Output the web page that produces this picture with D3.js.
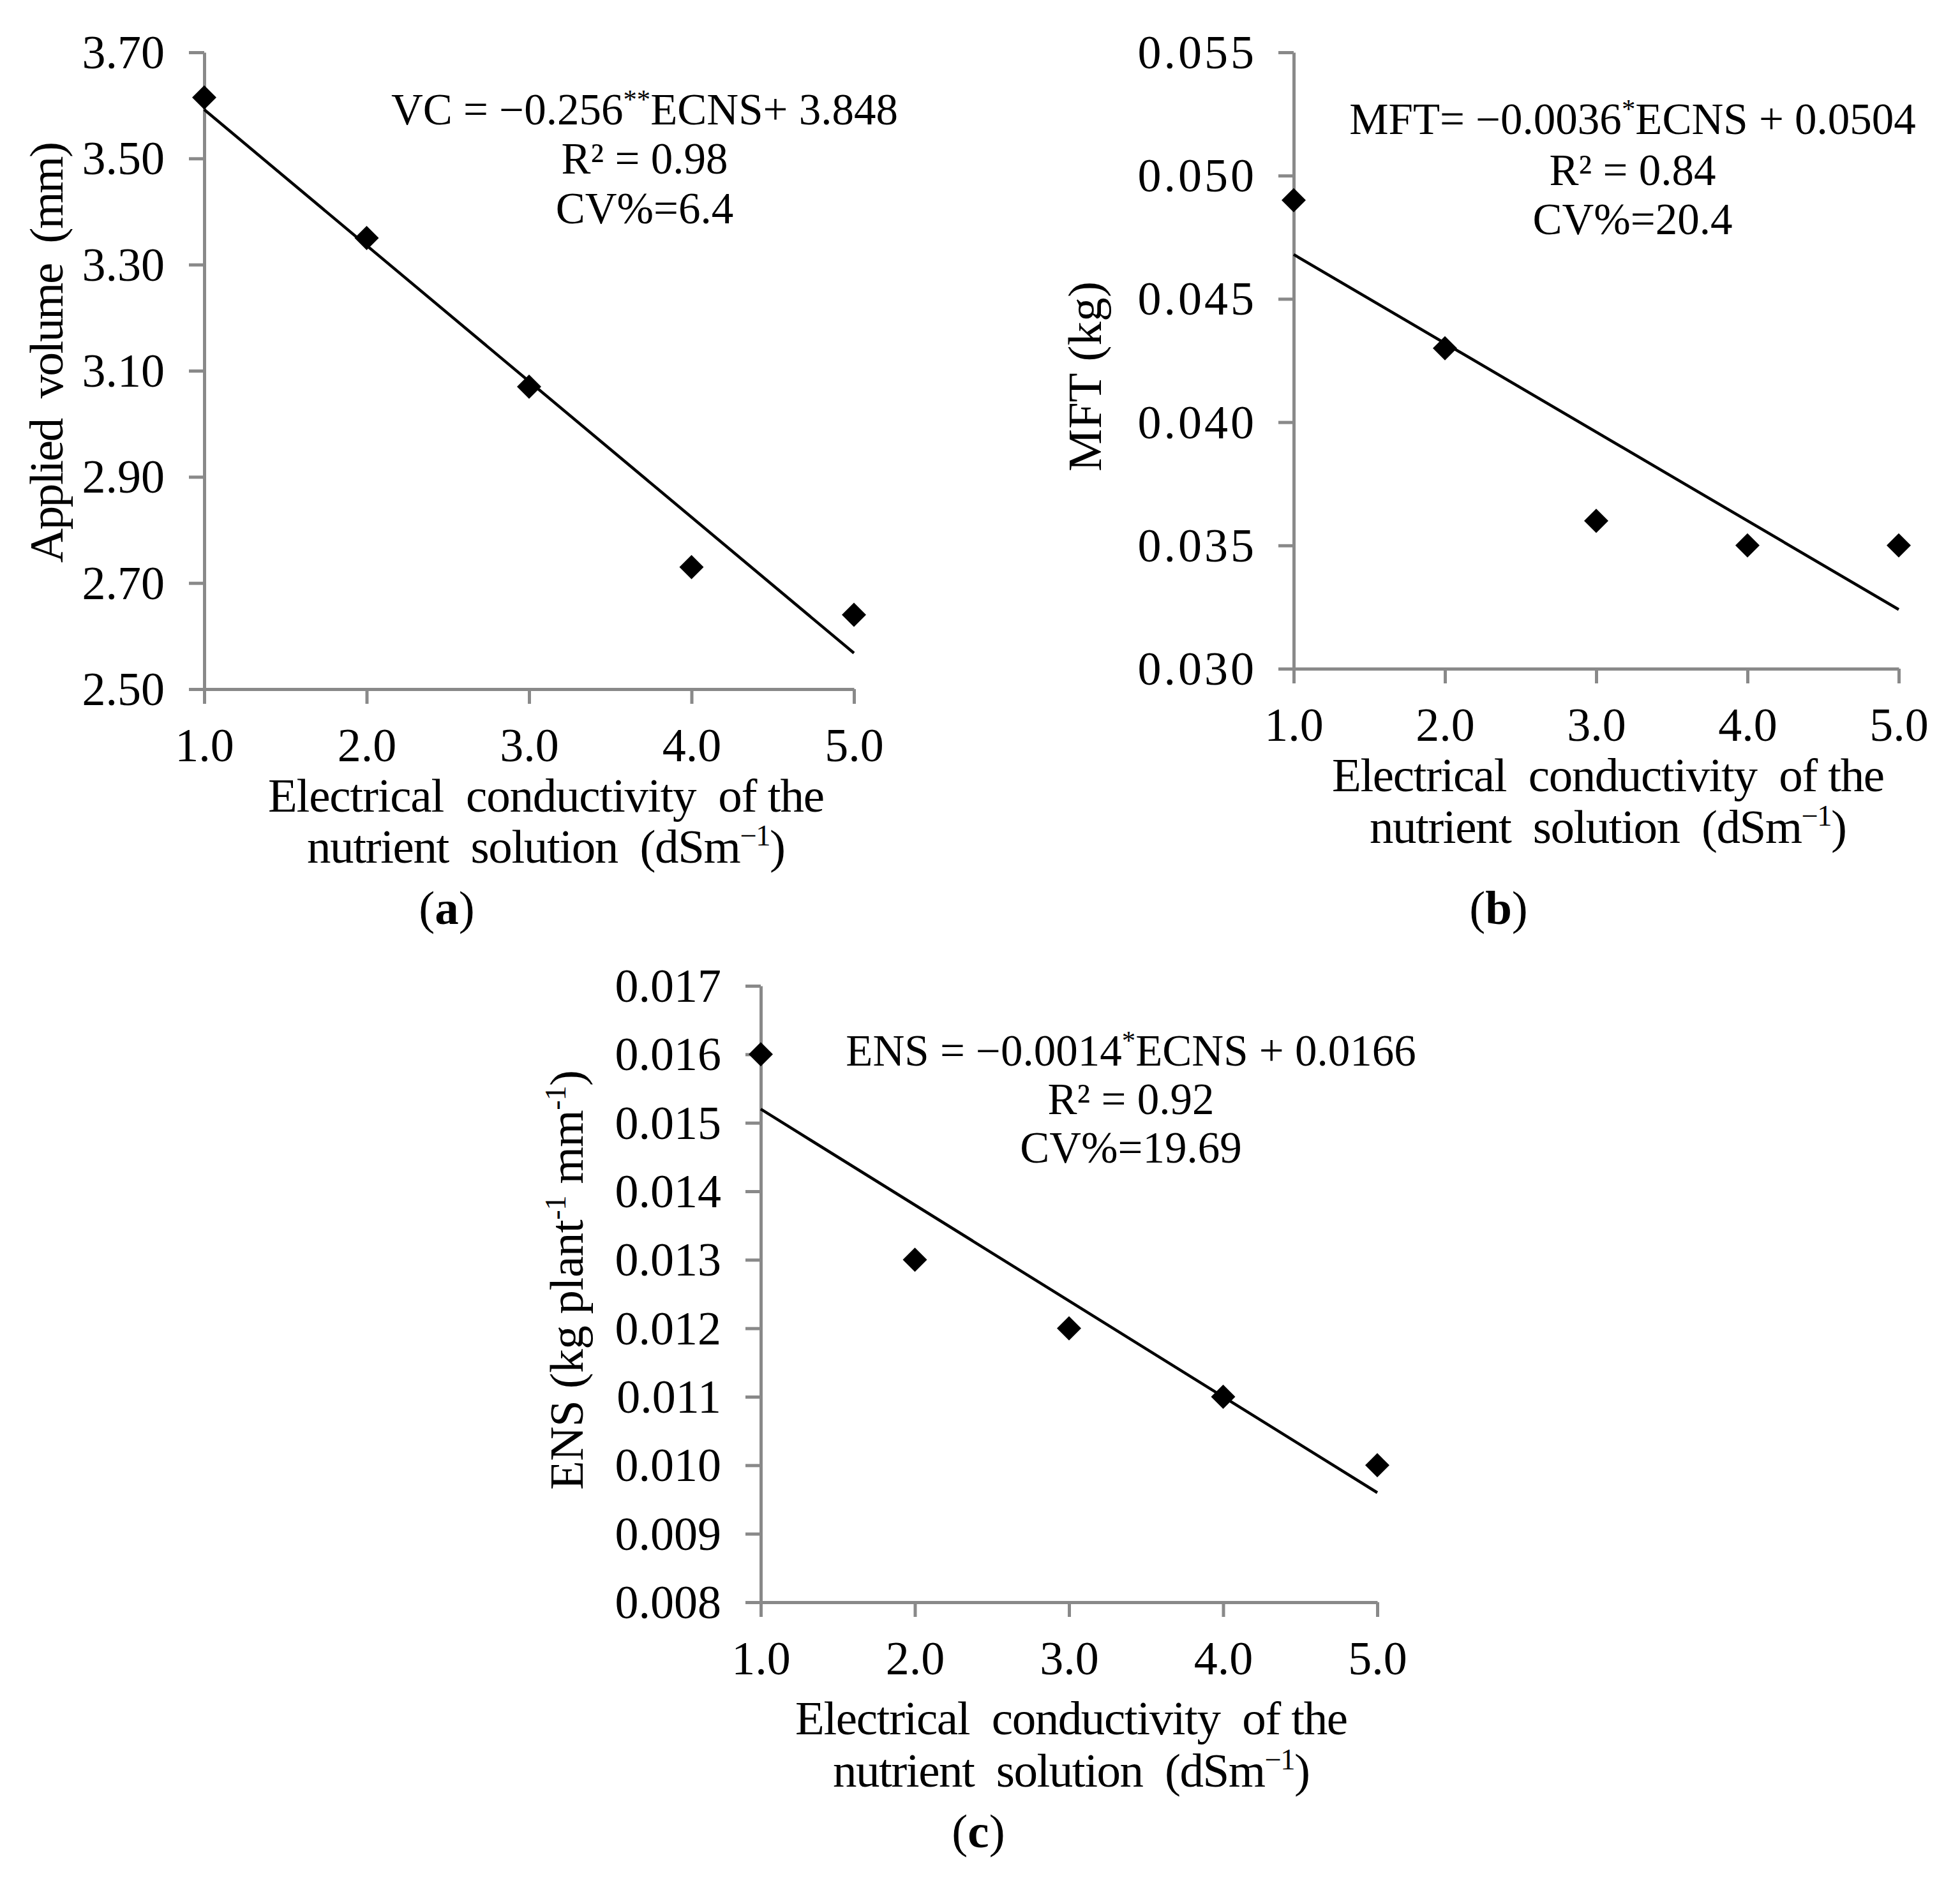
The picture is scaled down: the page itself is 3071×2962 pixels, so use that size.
<!DOCTYPE html>
<html>
<head>
<meta charset="utf-8">
<script src="https://cdn.jsdelivr.net/npm/d3@7"></script>
<style>
  html, body { margin: 0; padding: 0; background: #ffffff; }
  svg { display: block; }
  text { font-family: "Liberation Serif", "Times New Roman", serif; fill: #000; white-space: pre; }
</style>
</head>
<body>
<script>
// ---------------- data ----------------
const ecns = [1.0, 2.0, 3.0, 4.0, 5.0];
const xTickValues = [1.0, 2.0, 3.0, 4.0, 5.0];

const appliedVolume = [3.615, 3.35, 3.07, 2.73, 2.64];
const volumeTicks = [2.50, 2.70, 2.90, 3.10, 3.30, 3.50, 3.70];
const volumeFit = [3.592, 2.568];   // fitted values at ECNS = 1 and 5

const mftValues = [0.049, 0.043, 0.036, 0.035, 0.035];
const mftTicks = [0.030, 0.035, 0.040, 0.045, 0.050, 0.055];
const mftFit = [0.0468, 0.0324];

const ensValues = [0.016, 0.013, 0.012, 0.011, 0.010];
const ensTicks = [0.008, 0.009, 0.010, 0.011, 0.012, 0.013, 0.014, 0.015, 0.016, 0.017];
const ensFit = [0.0152, 0.0096];

const fitX = [1.0, 5.0];

const xTitle1 = "Electrical  conductivity  of the";
const xTitle2 = [{t: "nutrient  solution  (dSm"}, {t: "\u22121", sup: true}, {t: ")"}];

// ---------------- layout ----------------
const W = 3071, H = 2962;
const svg = d3.select("body").append("svg").attr("width", W).attr("height", H);
svg.append("rect").attr("width", W).attr("height", H).attr("fill", "#fff");

const AXIS = "#898989";
const FS = 74;

function rich(sel, parts, fs) {
  let shifted = false;
  parts.forEach(p => {
    const ts = sel.append("tspan").text(p.t);
    if (p.bold) ts.attr("font-weight", "bold");
    if (p.sup) {
      ts.attr("font-size", fs * 0.62).attr("dy", -fs * 0.36);
      shifted = true;
    } else if (shifted) {
      ts.attr("dy", fs * 0.36);
      shifted = false;
    }
  });
}

const panels = [
  {
    x0: 320, x1: 1338, yTop: 82, yBot: 1080,
    yDomain: [2.50, 3.70], ticks: volumeTicks, fmt: d3.format(".2f"), tickLS: 0,
    values: appliedVolume, fit: volumeFit,
    yTitle: [{t: "Applied  volume  (mm)"}], yTitleX: 98, yTitleY: 552, yTitleLen: 660,
    eq: [[{t: "VC = \u22120.256"}, {t: "**", sup: true}, {t: "ECNS+ 3.848"}],
         [{t: "R\u00b2 = 0.98"}], [{t: "CV%=6.4"}]],
    eqX: 1010, eqY: [195, 272, 350],
    xtX: 856, xtY: [1272, 1352], xtLen: [872, 750],
    tag: "a", tagX: 700, tagY: 1448
  },
  {
    x0: 2027, x1: 2975, yTop: 82, yBot: 1048,
    yDomain: [0.030, 0.055], ticks: mftTicks, fmt: d3.format(".3f"), tickLS: 4,
    values: mftValues, fit: mftFit,
    yTitle: [{t: "MFT (kg)"}], yTitleX: 1725, yTitleY: 590, yTitleLen: 298,
    eq: [[{t: "MFT= \u22120.0036"}, {t: "*", sup: true}, {t: "ECNS + 0.0504"}],
         [{t: "R\u00b2 = 0.84"}], [{t: "CV%=20.4"}]],
    eqX: 2558, eqY: [210, 290, 367],
    xtX: 2520, xtY: [1240, 1321], xtLen: [866, 748],
    tag: "b", tagX: 2348, tagY: 1448
  },
  {
    x0: 1192, x1: 2158, yTop: 1545, yBot: 2511,
    yDomain: [0.008, 0.017], ticks: ensTicks, fmt: d3.format(".3f"), tickLS: 0,
    values: ensValues, fit: ensFit,
    yTitle: [{t: "ENS (kg plant"}, {t: "-1", sup: true}, {t: " mm"}, {t: "-1", sup: true}, {t: ")"}],
    yTitleX: 913, yTitleY: 2006, yTitleLen: 658,
    eq: [[{t: "ENS = \u22120.0014"}, {t: "*", sup: true}, {t: "ECNS + 0.0166"}],
         [{t: "R\u00b2 = 0.92"}], [{t: "CV%=19.69"}]],
    eqX: 1772, eqY: [1670, 1746, 1822],
    xtX: 1679, xtY: [2718, 2800], xtLen: [866, 748],
    tag: "c", tagX: 1533, tagY: 2895
  }
];

panels.forEach(p => {
  const x = d3.scaleLinear().domain([1, 5]).range([p.x0, p.x1]);
  const y = d3.scaleLinear().domain(p.yDomain).range([p.yBot, p.yTop]);
  const g = svg.append("g");

  // y axis
  const ya = g.append("g").attr("transform", `translate(${p.x0},0)`)
    .call(d3.axisLeft(y).tickValues(p.ticks).tickFormat(p.fmt)
      .tickSize(24).tickSizeOuter(0).tickPadding(38 - p.tickLS));
  // x axis
  const xa = g.append("g").attr("transform", `translate(0,${p.yBot})`)
    .call(d3.axisBottom(x).tickValues(xTickValues).tickFormat(d3.format(".1f"))
      .tickSize(23).tickSizeOuter(0).tickPadding(37));

  [ya, xa].forEach(a => {
    a.select(".domain").attr("stroke", AXIS).attr("stroke-width", 5);
    a.selectAll(".tick line").attr("stroke", AXIS).attr("stroke-width", 5);
    a.selectAll(".tick text").attr("font-size", FS).attr("fill", "#000")
      .attr("font-family", "Liberation Serif, Times New Roman, serif");
  });
  ya.selectAll(".tick text").attr("dy", "0.33em").attr("letter-spacing", p.tickLS);

  // fitted line
  g.append("line")
    .attr("x1", x(fitX[0])).attr("y1", y(p.fit[0]))
    .attr("x2", x(fitX[1])).attr("y2", y(p.fit[1]))
    .attr("stroke", "#000").attr("stroke-width", 4.5);

  // points (diamonds)
  const sym = d3.symbol().type(d3.symbolSquare).size(720);
  g.selectAll("path.pt").data(ecns.map((e, i) => [e, p.values[i]]))
    .join("path").attr("class", "pt")
    .attr("d", sym)
    .attr("transform", d => `translate(${x(d[0])},${y(d[1])}) rotate(45)`)
    .attr("fill", "#000");

  // y title
  const yt = g.append("text")
    .attr("transform", `translate(${p.yTitleX},${p.yTitleY}) rotate(-90)`)
    .attr("text-anchor", "middle").attr("font-size", 75)
    .attr("textLength", p.yTitleLen).attr("lengthAdjust", "spacing");
  rich(yt, p.yTitle, 75);

  // equation text
  p.eq.forEach((line, i) => {
    const t = g.append("text").attr("x", p.eqX).attr("y", p.eqY[i])
      .attr("text-anchor", "middle").attr("font-size", 69);
    rich(t, line, 69);
  });

  // x title
  g.append("text").attr("x", p.xtX).attr("y", p.xtY[0])
    .attr("text-anchor", "middle").attr("font-size", 75)
    .attr("textLength", p.xtLen[0]).attr("lengthAdjust", "spacing").text(xTitle1);
  const t2 = g.append("text").attr("x", p.xtX).attr("y", p.xtY[1])
    .attr("text-anchor", "middle").attr("font-size", 75)
    .attr("textLength", p.xtLen[1]).attr("lengthAdjust", "spacing");
  rich(t2, xTitle2, 75);

  // panel tag
  const tg = g.append("text").attr("x", p.tagX).attr("y", p.tagY)
    .attr("text-anchor", "middle").attr("font-size", 75);
  rich(tg, [{t: "("}, {t: p.tag, bold: true}, {t: ")"}], 75);
});
</script>
</body>
</html>
